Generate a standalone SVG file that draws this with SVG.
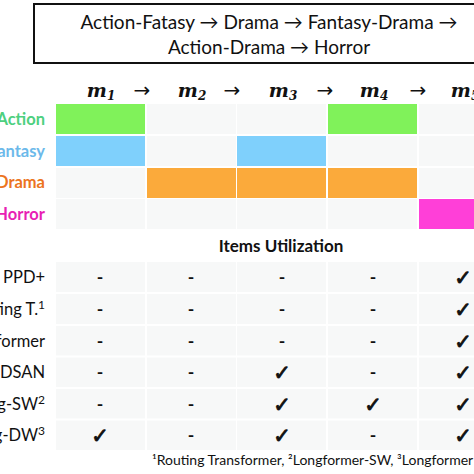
<svg xmlns="http://www.w3.org/2000/svg" width="474" height="474" viewBox="0 0 474 474">
<style>
text{font-family:Lato,"Liberation Sans",sans-serif;fill:#111}
.title{font-size:19px;text-anchor:middle}
.hdr{font-family:"DejaVu Serif",serif;font-weight:bold;font-style:italic;font-size:19px;text-anchor:middle}
.sub{font-size:12px}
.arr{font-family:"DejaVu Sans",sans-serif;font-size:20px;text-anchor:middle}
.g{fill:#f7f8f8}
.lab{font-weight:bold;font-size:16.5px;text-anchor:end}
.rl{font-size:16.5px;text-anchor:end}
.dash{font-weight:bold;font-size:17.5px;text-anchor:middle}
.chk{font-family:"DejaVu Sans",sans-serif;font-weight:bold;font-size:21px;text-anchor:middle;stroke:#111;stroke-width:0.9px}
</style>
<rect width="474" height="474" fill="#fff"/>
<g id="title">
<rect x="34" y="4" width="470" height="59" fill="none" stroke="#111" stroke-width="2"/>
<text class="title" x="269" y="29">Action-Fatasy → Drama → Fantasy-Drama →</text>
<text class="title" x="269" y="54">Action-Drama → Horror</text>
</g>
<g id="headers">
<text class="hdr" x="101" y="97">m<tspan class="sub" dy="3">1</tspan></text>
<text class="arr" x="142" y="97">→</text>
<text class="hdr" x="192" y="97">m<tspan class="sub" dy="3">2</tspan></text>
<text class="arr" x="232" y="97">→</text>
<text class="hdr" x="283" y="97">m<tspan class="sub" dy="3">3</tspan></text>
<text class="arr" x="325" y="97">→</text>
<text class="hdr" x="374" y="97">m<tspan class="sub" dy="3">4</tspan></text>
<text class="arr" x="418" y="97">→</text>
<text class="hdr" x="465" y="97">m<tspan class="sub" dy="3">5</tspan></text>
</g>
<g id="genre-grid">
<rect x="56" y="104" width="89" height="30" fill="#80f25a"/>
<rect class="g" x="147" y="104" width="89" height="30"/>
<rect class="g" x="237" y="104" width="89" height="30"/>
<rect x="328" y="104" width="89" height="30" fill="#80f25a"/>
<rect class="g" x="419" y="104" width="89" height="30"/>
<rect x="56" y="136" width="89" height="30" fill="#7fd0fc"/>
<rect class="g" x="147" y="136" width="89" height="30"/>
<rect x="237" y="136" width="89" height="30" fill="#7fd0fc"/>
<rect class="g" x="328" y="136" width="89" height="30"/>
<rect class="g" x="419" y="136" width="89" height="30"/>
<rect class="g" x="56" y="168" width="89" height="30"/>
<rect x="147" y="168" width="89" height="30" fill="#fbaa3b"/>
<rect x="237" y="168" width="89" height="30" fill="#fbaa3b"/>
<rect x="328" y="168" width="89" height="30" fill="#fbaa3b"/>
<rect class="g" x="419" y="168" width="89" height="30"/>
<rect class="g" x="56" y="199" width="89" height="30"/>
<rect class="g" x="147" y="199" width="89" height="30"/>
<rect class="g" x="237" y="199" width="89" height="30"/>
<rect class="g" x="328" y="199" width="89" height="30"/>
<rect x="419" y="199" width="89" height="30" fill="#ff3fd8"/>
<text class="lab" x="45" y="125" style="fill:#4dd07f">Action</text>
<text class="lab" x="45" y="157" style="fill:#6cb9ea">Fantasy</text>
<text class="lab" x="45" y="188" style="fill:#ec7420">Drama</text>
<text class="lab" x="45" y="220" style="fill:#e81fb4">Horror</text>
</g>
<g id="utilization">
<text x="281" y="252" style="font-weight:bold;font-size:17px;text-anchor:middle">Items Utilization</text>
<g id="cells">
<rect class="g" x="56" y="262" width="89" height="188"/>
<rect class="g" x="147" y="262" width="89" height="188"/>
<rect class="g" x="237" y="262" width="89" height="188"/>
<rect class="g" x="328" y="262" width="89" height="188"/>
<rect class="g" x="419" y="262" width="89" height="188"/>
<g stroke="#fff" stroke-width="2">
<line x1="56" y1="293" x2="474" y2="293"/>
<line x1="56" y1="325" x2="474" y2="325"/>
<line x1="56" y1="356.5" x2="474" y2="356.5"/>
<line x1="56" y1="388" x2="474" y2="388"/>
<line x1="56" y1="419.5" x2="474" y2="419.5"/>
</g>
</g>
<text class="rl" x="45" y="283">PPD+</text>
<text class="rl" x="45" y="315">Routing T.<tspan class="sub" dy="-6">1</tspan></text>
<text class="rl" x="45" y="347">Longformer</text>
<text class="rl" x="45" y="378">DSAN</text>
<text class="rl" x="45" y="410">Long-SW<tspan class="sub" dy="-6">2</tspan></text>
<text class="rl" x="45" y="441">Long-DW<tspan class="sub" dy="-6">3</tspan></text>
<text class="dash" x="100" y="283">-</text><text class="dash" x="191" y="283">-</text><text class="dash" x="282" y="283">-</text><text class="dash" x="373" y="283">-</text><text class="chk" x="463" y="285">✓</text>
<text class="dash" x="100" y="315">-</text><text class="dash" x="191" y="315">-</text><text class="dash" x="282" y="315">-</text><text class="dash" x="373" y="315">-</text><text class="chk" x="463" y="317">✓</text>
<text class="dash" x="100" y="347">-</text><text class="dash" x="191" y="347">-</text><text class="dash" x="282" y="347">-</text><text class="dash" x="373" y="347">-</text><text class="chk" x="463" y="349">✓</text>
<text class="dash" x="100" y="378">-</text><text class="dash" x="191" y="378">-</text><text class="chk" x="282" y="380">✓</text><text class="dash" x="373" y="378">-</text><text class="chk" x="463" y="380">✓</text>
<text class="dash" x="100" y="410">-</text><text class="dash" x="191" y="410">-</text><text class="chk" x="282" y="412">✓</text><text class="chk" x="373" y="412">✓</text><text class="chk" x="463" y="412">✓</text>
<text class="chk" x="100" y="443">✓</text><text class="dash" x="191" y="441">-</text><text class="chk" x="282" y="443">✓</text><text class="dash" x="373" y="441">-</text><text class="chk" x="463" y="443">✓</text>
</g>
<text x="152" y="465" style="font-size:14px">¹Routing Transformer, ²Longformer-SW, ³Longformer</text>
</svg>
